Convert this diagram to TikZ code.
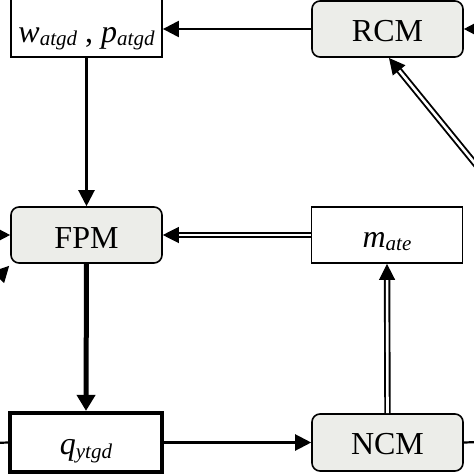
\documentclass[tikz,border=0pt]{standalone}
\usepackage{fontspec}
\setmainfont{Liberation Serif}
\usetikzlibrary{arrows.meta,calc}
\definecolor{boxgray}{RGB}{236,237,233}
\newcommand\vsub[2]{\textit{#1}\raisebox{-0.12em}{\fontsize{21}{21}\selectfont\textit{#2}}}
\newcommand\bl[2]{\raisebox{-#1}[0pt][0pt]{#2}}
\tikzset{
  mainfont/.style={font=\fontsize{32}{32}\selectfont},
  roundbox/.style={draw, line width=1.6pt, fill=boxgray, rounded corners=8pt,
    minimum width=151pt, minimum height=56pt, inner sep=0pt, mainfont},
  plainbox/.style={draw, line width=1.8pt, fill=white,
    minimum width=151pt, minimum height=56pt, inner sep=0pt, mainfont},
  thickbox/.style={draw, line width=4.2pt, fill=white,
    minimum width=152pt, minimum height=59pt, inner sep=0pt, mainfont},
  arr/.style={line width=2.2pt, -{Triangle[length=16pt,width=16pt]}},
  plainline/.style={line width=2.2pt},
  thickarr/.style={line width=5pt, -{Triangle[length=16pt,width=18pt]}},
  dbl/.style={line width=1.9pt, double=white, double distance=2.6pt},
  dtip/.style={line width=1.2pt, -{Triangle[length=16pt,width=16pt]}},
}
\begin{document}
\begin{tikzpicture}[x=1pt,y=-1pt]
\useasboundingbox (0,0) rectangle (474,474);
\clip (0,0) rectangle (474,474);
% nodes
\node[plainbox, minimum height=60pt] (W) at (86.5,27) {\bl{15pt}{\vsub{w}{atgd} , \vsub{p}{atgd}}};
\node[roundbox] (RCM) at (387.5,29) {\bl{12pt}{RCM}};
\node[roundbox] (FPM) at (86.5,235) {\bl{13pt}{FPM}};
\node[plainbox] (M) at (387,235) {\bl{12pt}{\vsub{m}{ate}}};
\node[thickbox] (Q) at (86,442.5) {\bl{12pt}{\vsub{q}{ytgd}}};
\node[roundbox, minimum height=57pt] (NCM) at (387.5,442.5) {\bl{11.5pt}{NCM}};
% free ends
\coordinate (rin) at (480,29);
\coordinate (lin) at (-6,235);
\coordinate (dl) at (-14,290);
\coordinate (dr) at (477,166);
\coordinate (qin) at (-6,443);
\coordinate (nout) at (480,442);
% connectors
\draw[arr] (RCM.west) -- (RCM.west -| W.east);
\draw[arr] (rin) -- (RCM.east);
\draw[arr] (W.south) -- (FPM.north);
\draw[arr] (lin) -- (FPM.west);
\draw[arr] (dl) -- ($(FPM.south west)+(-1,2)$);
\draw[thickarr] (FPM.south) -- (Q.north);
\draw[arr] (Q.east |- NCM.west) -- (NCM.west);
\draw[plainline] (qin) -- (Q.west);
\draw[plainline] (NCM.east) -- (nout);
% double arrows
\coordinate (mtip) at (M.west -| FPM.east);
\draw[dbl, shorten >=14pt] (M.west) -- (mtip);
\draw[dtip] ($(mtip)!15pt!(M.west)$) -- (mtip);
\draw[dbl, shorten >=14pt] (NCM.north) -- (M.south);
\draw[dtip] ($(M.south)!15pt!(NCM.north)$) -- (M.south);
\coordinate (rtip) at (389,58);
\draw[dbl, shorten >=14pt] (dr) -- (rtip);
\draw[dtip] ($(rtip)!15pt!(dr)$) -- (rtip);
\end{tikzpicture}
\end{document}
